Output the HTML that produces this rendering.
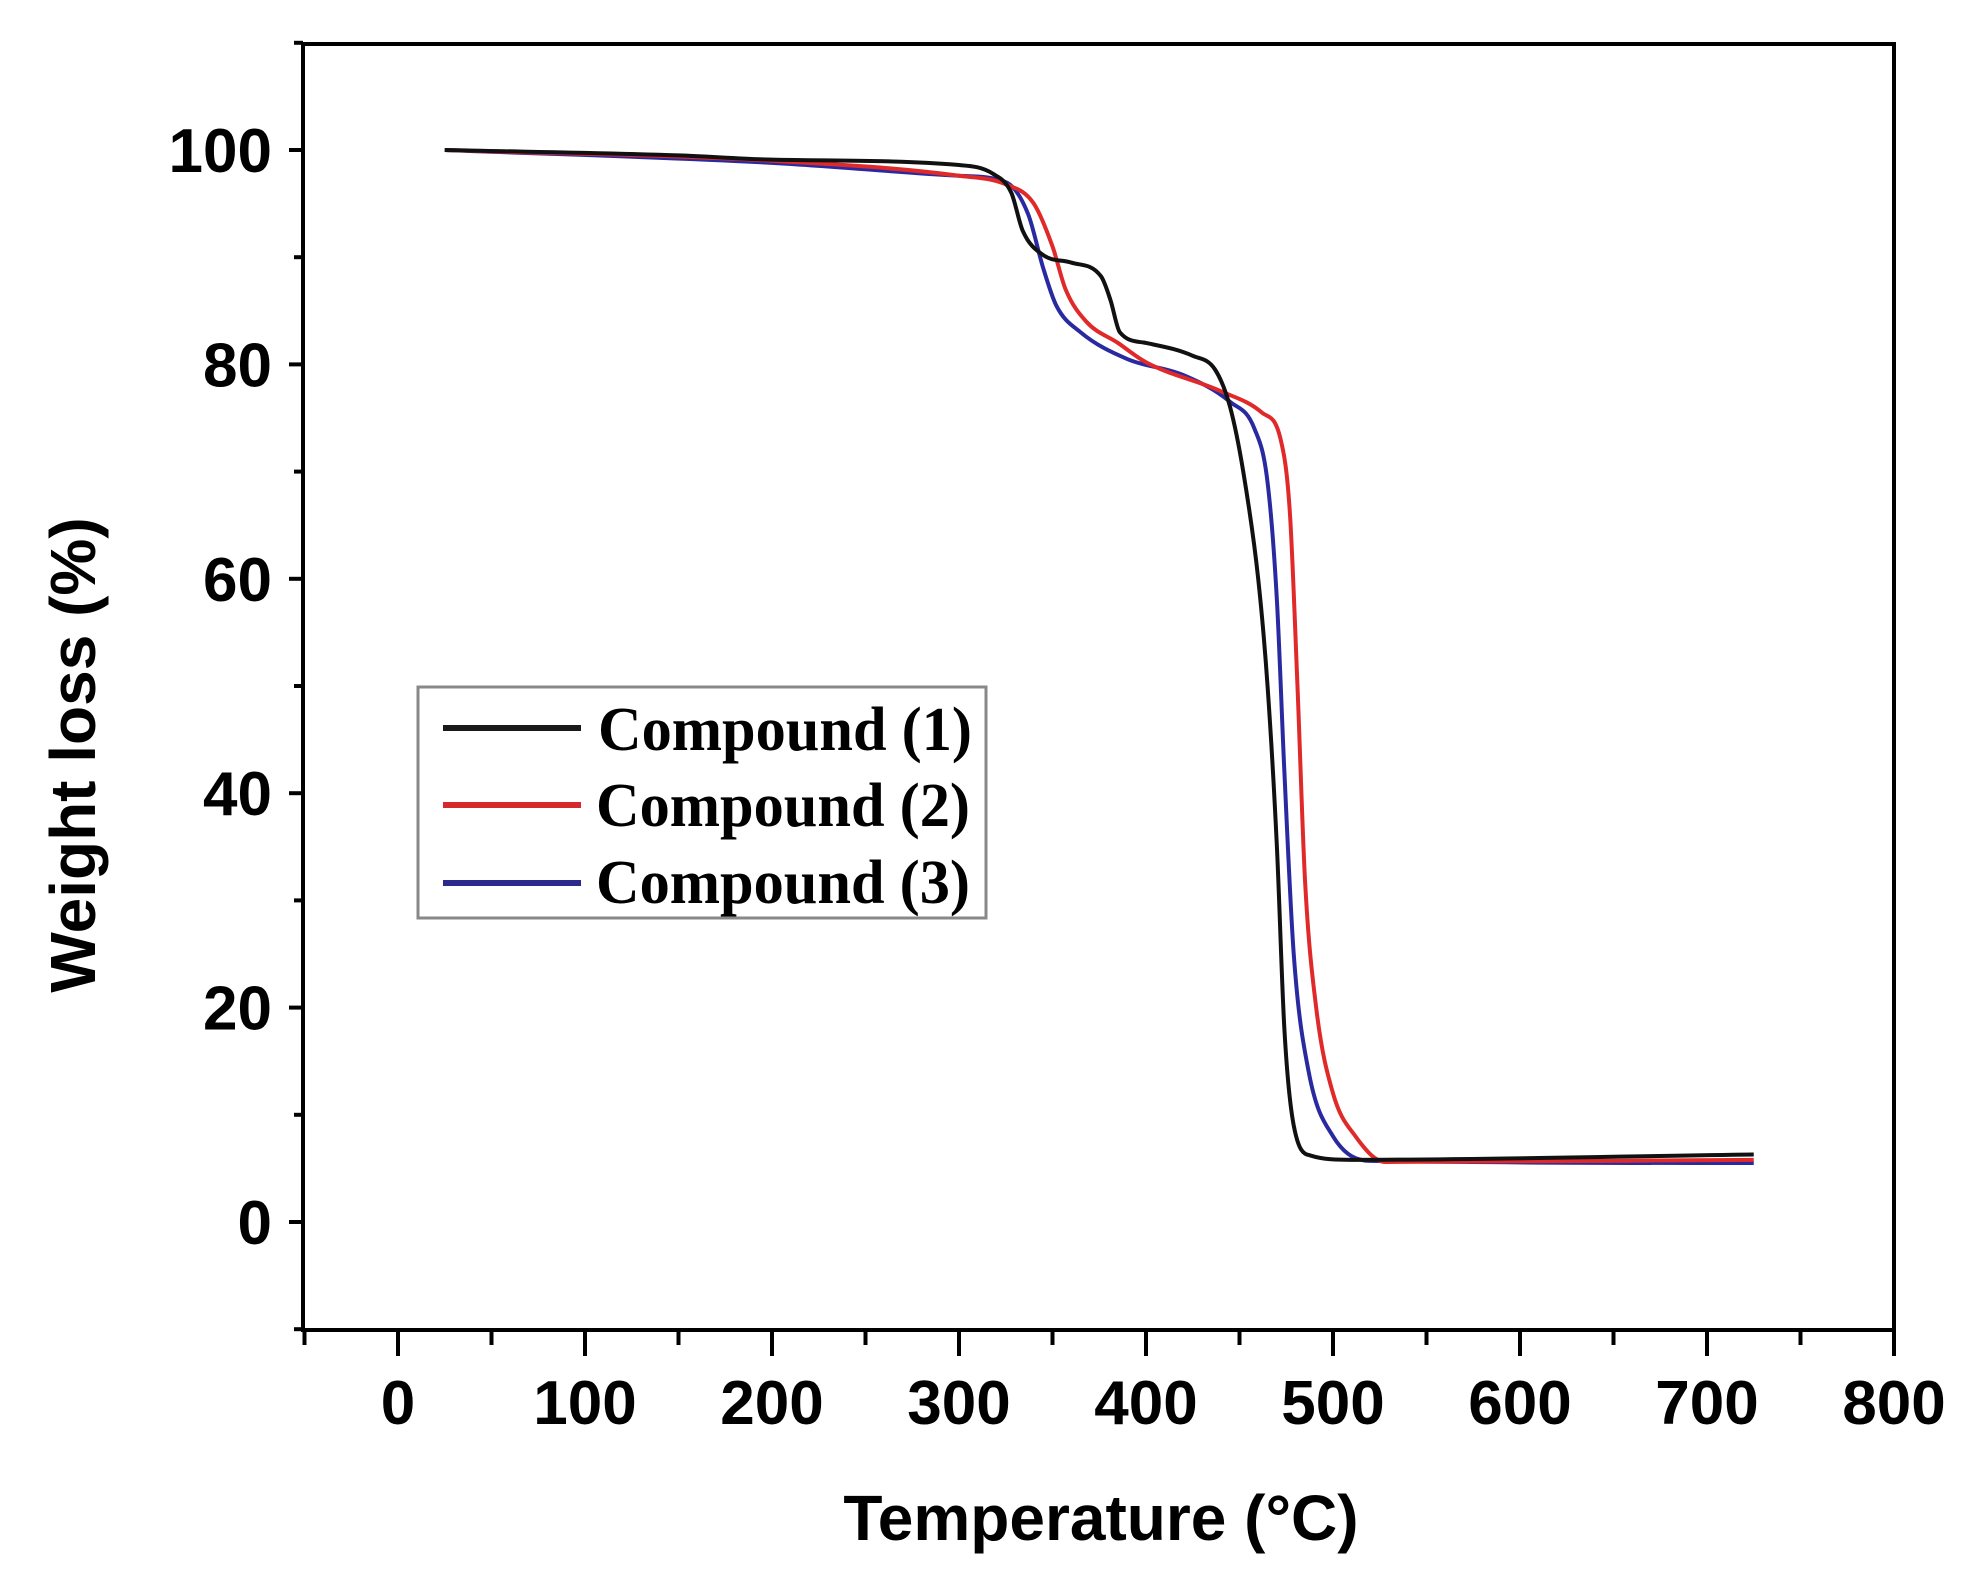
<!DOCTYPE html>
<html><head><meta charset="utf-8"><style>html,body{margin:0;padding:0;background:#fff}</style></head>
<body>
<svg id="s" width="1973" height="1584" xmlns="http://www.w3.org/2000/svg" style="display:block">
<rect width="1973" height="1584" fill="#fff"/>
<g id="ticks" stroke="#000" stroke-width="4"></g>
<rect x="303" y="44" width="1591" height="1286" fill="none" stroke="#000" stroke-width="4"/>
<g id="lab" font-family="Liberation Sans, sans-serif" font-weight="bold" font-size="62" fill="#000"></g>
<text x="1101" y="1540" text-anchor="middle" font-family="Liberation Sans, sans-serif" font-weight="bold" font-size="64">Temperature (°C)</text>
<text transform="translate(95,755) rotate(-90)" text-anchor="middle" font-family="Liberation Sans, sans-serif" font-weight="bold" font-size="64">Weight loss (%)</text>
<g id="curves" fill="none" stroke-width="4" stroke-linejoin="round"></g>
<rect x="418" y="687" width="568" height="231" fill="#fff" stroke="#888" stroke-width="3"/>
<g stroke-width="6">
<line x1="443" y1="728" x2="581" y2="728" stroke="#1a1a1a"/>
<line x1="443" y1="805" x2="581" y2="805" stroke="#d42a2a"/>
<line x1="443" y1="883" x2="581" y2="883" stroke="#2a2a8a"/>
</g>
<g font-family="Liberation Serif, serif" font-weight="bold" font-size="62" fill="#000">
<text x="598" y="750" textLength="374" lengthAdjust="spacingAndGlyphs">Compound (1)</text>
<text x="596" y="826" textLength="374" lengthAdjust="spacingAndGlyphs">Compound (2)</text>
<text x="596" y="903" textLength="374" lengthAdjust="spacingAndGlyphs">Compound (3)</text>
</g>
</svg>
<script>
var NS="http://www.w3.org/2000/svg";
function X(t){return 398+1.87*t}function Y(w){return 1222-10.72*w}
function el(p,n,a,txt){var e=document.createElementNS(NS,n);for(var k in a)e.setAttribute(k,a[k]);if(txt!=null)e.textContent=txt;document.getElementById(p).appendChild(e);}
for(var t=-50;t<=800;t+=50){var x=X(t),maj=(t%100==0);el("ticks","line",{x1:x,y1:1330,x2:x,y2:1330+(maj?26:15)});if(maj)el("lab","text",{x:x,y:1424,"text-anchor":"middle"},t);}
for(var w=-10;w<=110;w+=10){var y=Y(w),maj=(w%20==0);el("ticks","line",{x1:303,y1:y,x2:303-(maj?14:9),y2:y});if(maj&&w>=0&&w<=100)el("lab","text",{x:272,y:y+22,"text-anchor":"end"},w);}
function path(pts){var n=pts.length,xs=pts.map(function(p){return X(p[0])}),ys=pts.map(function(p){return Y(p[1])});
var d=[],m=[];for(var i=0;i<n-1;i++)d.push((ys[i+1]-ys[i])/(xs[i+1]-xs[i]));
m[0]=d[0];m[n-1]=d[n-2];for(i=1;i<n-1;i++){m[i]=(d[i-1]*d[i]<=0)?0:(d[i-1]+d[i])/2;}
for(i=0;i<n-1;i++){if(d[i]==0){m[i]=0;m[i+1]=0;continue;}var a=m[i]/d[i],b=m[i+1]/d[i],s=a*a+b*b;if(s>9){var tt=3/Math.sqrt(s);m[i]=tt*a*d[i];m[i+1]=tt*b*d[i];}}
var s="M"+xs[0]+","+ys[0];for(i=0;i<n-1;i++){var h=(xs[i+1]-xs[i])/3;s+=" C"+(xs[i]+h)+","+(ys[i]+m[i]*h)+" "+(xs[i+1]-h)+","+(ys[i+1]-m[i+1]*h)+" "+xs[i+1]+","+ys[i+1];}return s;}
var c1=[[25,100],[150,99.5],[200,99.1],[300,98.6],[318,97.8],[328,96],[334,92.5],[345,90.2],[360,89.5],[376,88.2],[381,86],[386,83],[400,82],[425,80.8],[437,79.5],[445,76],[452,70],[460,60],[465,50],[470,35],[474,18],[479,9],[488,6.2],[510,5.8],[725,6.3]];
var c2=[[25,100],[200,99],[300,97.6],[325,96.8],[340,95],[350,91],[357,87],[368,84],[385,82],[400,80.2],[440,77.5],[462,75.5],[472,73],[477,66],[481,50],[485,32],[491,20],[500,12],[512,8],[528,5.6],[725,5.8]];
var c3=[[25,100],[200,98.8],[300,97.6],[325,97],[337,94],[345,89],[352,85.5],[365,83],[390,80.5],[420,79],[445,76.5],[458,74],[465,69],[470,58],[474,42],[479,25],[487,14],[500,8],[520,5.7],[725,5.5]];
el("curves","path",{d:path(c3),stroke:"#2a2aa0"});
el("curves","path",{d:path(c2),stroke:"#e02a2a"});
el("curves","path",{d:path(c1),stroke:"#111"});
</script>
</body></html>
